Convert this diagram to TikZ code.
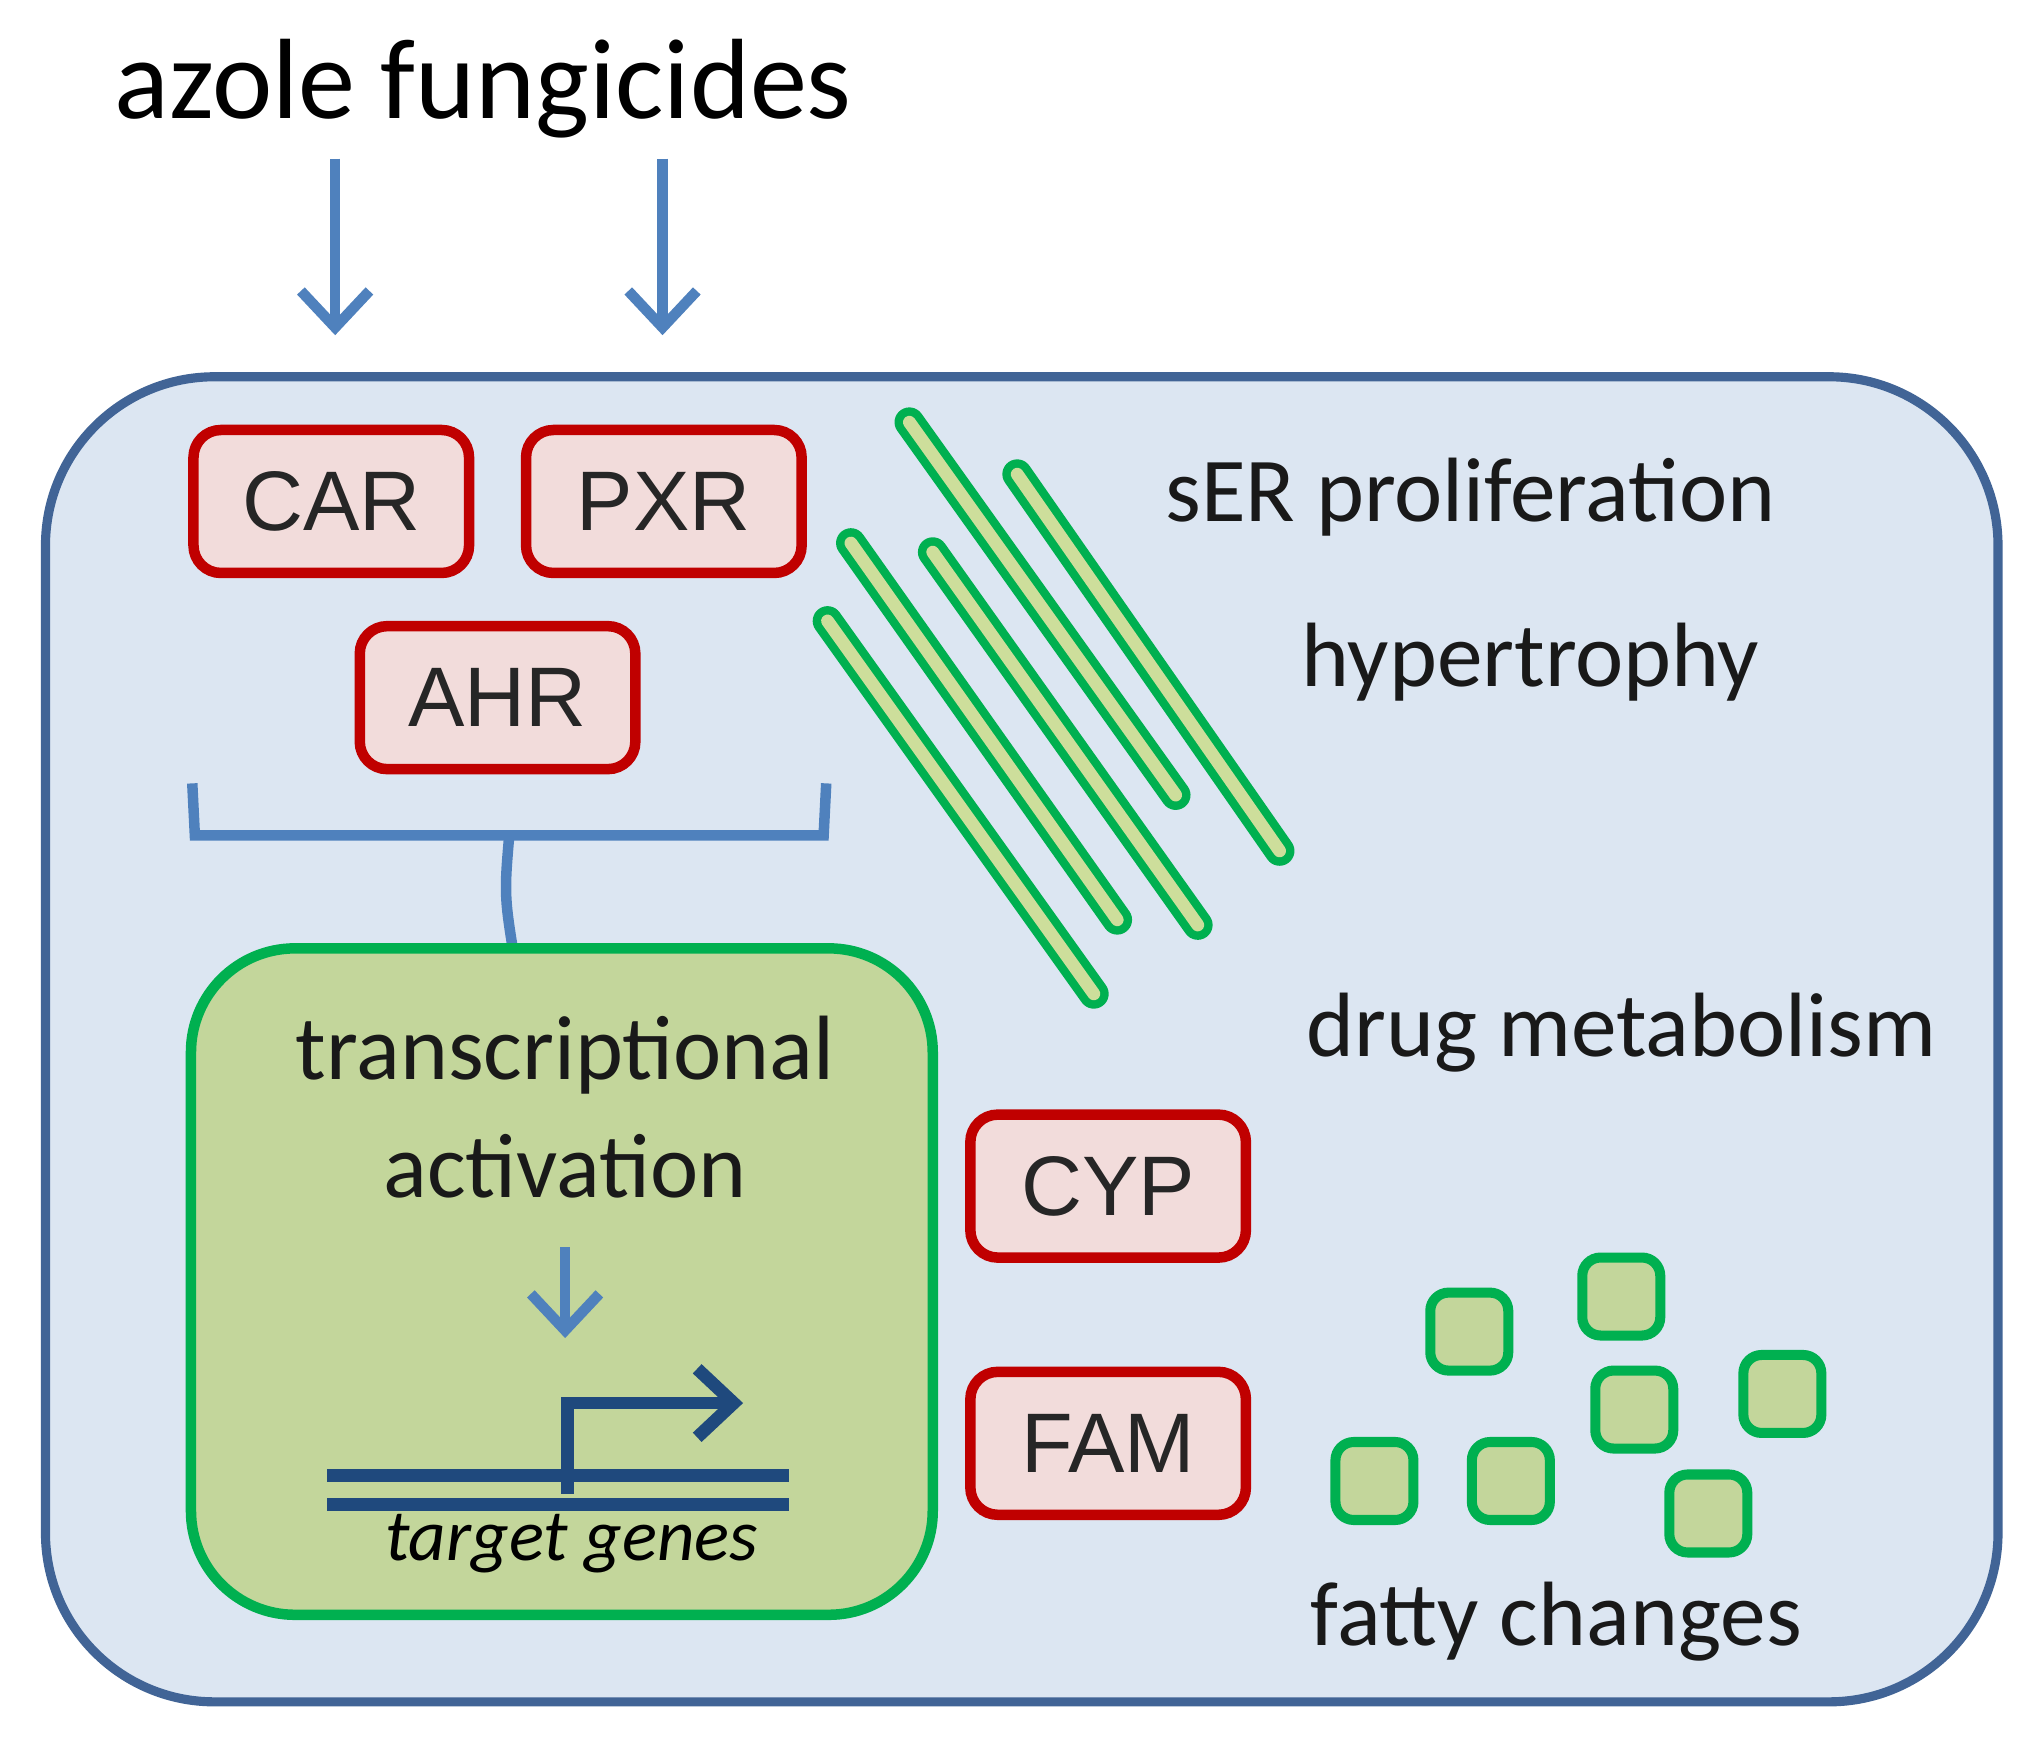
\documentclass[tikz,border=0pt]{standalone}
\usepackage{fontspec}
\setmainfont{Carlito}
\newfontfamily\boxfont{Liberation Sans}
\begin{document}
\begin{tikzpicture}[x=0.01cm,y=-0.01cm,
  blu/.style={draw=arrowblue,line width=2.3pt},
  arr/.style={blu,-{Straight Barb[length=8pt,width=15pt,line width=2.3pt]}},
  rbox/.style={draw=boxred,fill=boxpink,line width=2.3pt,rounded corners=6pt,minimum width=2.12cm,minimum height=1.1cm,font=\boxfont\fontsize{18.5}{22}\selectfont,text=black!85},
  lab/.style={font=\fontsize{20}{24}\selectfont,text=black!90},
  fat/.style={draw=fatgreen,fill=fatfill,line width=2.2pt,rounded corners=4pt,minimum size=0.6cm,inner sep=0pt},
  rod/.style={draw=fatgreen,line width=6.5pt,line cap=round},
  rodin/.style={draw=rodlight,line width=2.8pt,line cap=round}]
\usetikzlibrary{arrows.meta}
\definecolor{arrowblue}{RGB}{79,129,189}
\definecolor{cellblue}{RGB}{220,230,242}
\definecolor{cellborder}{RGB}{65,100,150}
\definecolor{boxred}{RGB}{192,0,0}
\definecolor{boxpink}{RGB}{242,220,219}
\definecolor{fatgreen}{RGB}{0,176,80}
\definecolor{fatfill}{RGB}{195,214,155}
\definecolor{rodlight}{RGB}{205,222,155}
\definecolor{dnablue}{RGB}{31,73,125}
\useasboundingbox (0,0) rectangle (1568,1344);
\fill[white] (0,0) rectangle (1568,1344);
\node[font=\fontsize{25}{30}\selectfont] (title) at (372,68) {azole fungicides};
\coordinate (a1s) at (258,122); \coordinate (a1e) at (258,258);
\coordinate (a2s) at (510,122); \coordinate (a2e) at (510,258);
\draw[arr] (a1s) -- (a1e);
\draw[arr] (a2s) -- (a2e);
\draw[draw=cellborder,fill=cellblue,line width=2pt,rounded corners=1.3cm] (35,290) rectangle (1538,1310);
\node[rbox] (car) at (255,386) {CAR};
\node[rbox] (pxr) at (511,386) {PXR};
\node[rbox] (ahr) at (383,537) {AHR};
\node[rbox] (cyp) at (853,913) {CYP};
\node[rbox] (fam) at (853,1111) {FAM};
\draw[blu] (148,603) -- (150,643) -- (634,643) -- (636,603);
\draw[blu] (392,643) .. controls (388,690) .. (398,750);
\draw[draw=fatgreen,fill=fatfill,line width=2.3pt,rounded corners=0.8cm] (147,730) rectangle (718,1243);
\node[lab] (tr) at (435,812) {transcriptional};
\node[lab] (ac) at (435,898) {activation};
\coordinate (s1) at (435,960); \coordinate (s2) at (435,1030);
\draw[arr] (s1) -- (s2);
\draw[draw=dnablue,line width=2.8pt] (252,1136) -- (607,1136) (252,1158) -- (607,1158);
\coordinate (p0) at (437,1150); \coordinate (p1) at (437,1080); \coordinate (p2) at (572,1080);
\draw[draw=dnablue,line width=2.8pt,-{Straight Barb[length=8pt,width=15pt,line width=2.8pt]}] (p0) -- (p1) -- (p2);
\node[font=\itshape\fontsize{16}{19}\selectfont] (tg) at (440,1188) {target genes};
\foreach \a/\b in {{(700,325)}/{(905,612)},{(783,365)}/{(985,655)},{(655,418)}/{(860,708)},{(718,425)}/{(922,712)},{(637,478)}/{(842,765)}}{
  \draw[rod] \a -- \b; \draw[rodin] \a -- \b;}
\node[lab] (ser) at (1132,383) {sER proliferation};
\node[lab] (hyp) at (1178,510) {hypertrophy};
\node[lab] (dm) at (1248,795) {drug metabolism};
\node[lab] (fc) at (1198,1248) {fatty changes};
\foreach \p [count=\i] in {(1131,1025),(1248,998),(1258,1085),(1372,1073),(1058,1140),(1163,1140),(1315,1165)}
  \node[fat] (f\i) at \p {};
\end{tikzpicture}
\end{document}
